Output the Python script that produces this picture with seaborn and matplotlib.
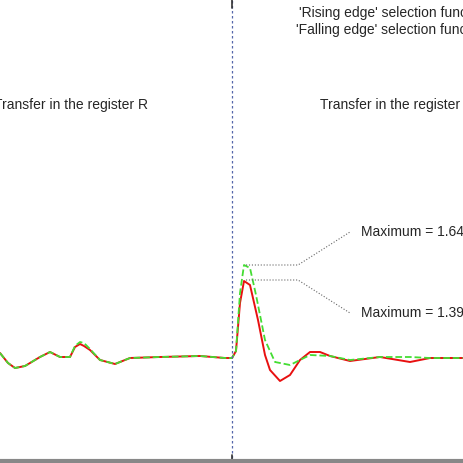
import matplotlib
matplotlib.use("Agg")
import matplotlib.pyplot as plt
import seaborn as sns
import pandas as pd

# values (x: time in px units, y: height above bottom in px units)
red_x = [0, 8, 15, 25, 40, 50, 60, 70, 75, 80, 84, 90, 100, 115, 130, 160, 200, 225, 232,
         236, 240, 244, 250, 258, 265, 270, 280, 290, 300, 310, 320, 330, 350, 380, 410, 430, 463]
red_y = [110, 100, 95, 97, 106, 111, 106, 106, 116, 119, 117, 113, 103, 99, 105, 106, 107, 105, 105,
         112, 160, 182, 178, 143, 108, 93, 82, 88, 103, 111, 111, 107, 102, 106, 101, 105, 105]
green_x = [0, 8, 15, 25, 40, 50, 60, 70, 75, 80, 84, 90, 100, 115, 130, 160, 200, 225, 232,
           236, 240, 244, 250, 256, 265, 275, 290, 300, 310, 330, 350, 380, 410, 430, 463]
green_y = [110, 100, 95, 97, 106, 111, 106, 106, 117, 121, 120, 114, 103, 99, 105, 106, 107, 105, 105,
           112, 170, 198, 195, 168, 123, 101, 98, 103, 108, 107, 103, 106, 106, 105, 105]

df = pd.concat([
    pd.DataFrame({"t": red_x, "v": red_y, "s": "fall"}),
    pd.DataFrame({"t": green_x, "v": green_y, "s": "rise"}),
])

sns.set_style("white")
plt.rcParams['font.family'] = ['Liberation Sans', 'DejaVu Sans']

fig = plt.figure(figsize=(4.63, 4.63), dpi=100)
ax = fig.add_axes([0, 0, 1, 1])
sns.lineplot(data=df[df.s == "fall"], x="t", y="v", color="#e81010", lw=1.4, ax=ax)
sns.lineplot(data=df[df.s == "rise"], x="t", y="v", color="#44dd33", lw=1.3, ls="--", ax=ax)

ax.axvline(232, color="#5566aa", ls=(0, (2, 2)), lw=0.9)
ax.plot([232, 232], [455, 463], color="#333333", lw=1.2)
ax.plot([232, 232], [0, 8], color="#333333", lw=1.2)
ax.axhline(2, color="#888888", lw=3)

# annotations
ax.plot([246, 298, 350], [198, 198, 231], color="#666666", ls=":", lw=0.8)
ax.plot([246, 298, 350], [183, 183, 150], color="#666666", ls=":", lw=0.8)
ax.text(361, 231, "Maximum = 1.64", fontsize=10, va="center")
ax.text(361, 150, "Maximum = 1.39", fontsize=10, va="center")
ax.text(148, 358, "Transfer in the register R", fontsize=10, va="center", ha="right")
ax.text(320, 358, "Transfer in the register S", fontsize=10, va="center")
ax.text(299, 450, "'Rising edge' selection function", fontsize=10, va="center")
ax.text(296, 433, "'Falling edge' selection function", fontsize=10, va="center")

ax.set_xlim(0, 463)
ax.set_ylim(0, 463)
ax.axis("off")
fig.savefig("out.png", dpi=100)
